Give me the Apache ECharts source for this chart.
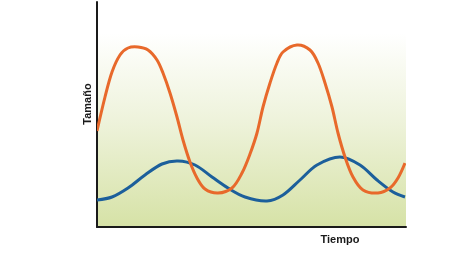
<!DOCTYPE html>
<html>
<head>
<meta charset="utf-8">
<script src="https://cdn.jsdelivr.net/npm/echarts@6/dist/echarts.min.js"></script>
<style>html,body{margin:0;padding:0;background:#fff;}#c{width:472px;height:270px;}</style>
</head>
<body>
<div id="c"></div>
<script>
const orangeX = [0,8,15,23,31,41,51,60,66,73,80,86,93,100,108,121,135,145,153,160,166,173,180,186,200,213,221,228,235,241,248,256,266,281,293,301,308];
const orangeY = [96,130,155,172,179,180,177,167,154,134,110,87,65,49,38,34,39,54,73,94,120,144,164,175,182,177,164,144,120,94,70,50,37,34,39,49,64];
const blueX = [0,15,31,48,65,81,98,115,131,148,170,186,203,220,243,263,280,296,308];
const blueY = [27,30,39,52,63,66,62,50,39,30,26,32,47,62,70,62,47,35,30];
const yLabel = 'Tamaño';
const xLabel = 'Tiempo';

const zip = (xs, ys) => xs.map((x, i) => [x, ys[i]]);

function curveSeries(xs, ys, color) {
  const data = zip(xs, ys);
  return {
    type: 'custom',
    data: data,
    clip: true,
    renderItem: function (params, api) {
      if (params.dataIndex !== 0) return null;
      const pts = data.map(d => api.coord(d));
      const cs = params.coordSys;
      return {
        type: 'polyline',
        shape: {points: pts, smooth: 0.33},
        style: {stroke: color, lineWidth: 3, fill: null, lineJoin: 'round', lineCap: 'butt'},
        clipPath: {type: 'rect', shape: {x: cs.x, y: cs.y, width: cs.width, height: cs.height}}
      };
    }
  };
}

const chart = echarts.init(document.getElementById('c'));
chart.setOption({
  animation: false,
  grid: {
    left: 97, top: 2, width: 309, height: 225, show: true, borderWidth: 0,
    backgroundColor: new echarts.graphic.LinearGradient(0, 0, 0, 1, [
      {offset: 0, color: '#ffffff'},
      {offset: 0.14, color: '#ffffff'},
      {offset: 0.55, color: '#edf2d9'},
      {offset: 1, color: '#d6e2a6'}
    ])
  },
  xAxis: {
    type: 'value', min: 0, max: 309,
    axisLine: {show: true, lineStyle: {color: '#1a1a1a', width: 2}},
    axisTick: {show: false}, axisLabel: {show: false}, splitLine: {show: false}
  },
  yAxis: {
    type: 'value', min: 0, max: 225,
    axisLine: {show: true, lineStyle: {color: '#1a1a1a', width: 2}},
    axisTick: {show: false}, axisLabel: {show: false}, splitLine: {show: false}
  },
  series: [
    curveSeries(blueX, blueY, '#1c5f9b'),
    curveSeries(orangeX, orangeY, '#e8692b')
  ],
  graphic: [
    {type: 'text', x: 88, y: 104, rotation: Math.PI / 2,
     style: {text: yLabel, fill: '#1a1a1a', font: 'bold 11px "Liberation Sans", Arial, sans-serif', align: 'center', verticalAlign: 'middle'}},
    {type: 'text', x: 340, y: 240,
     style: {text: xLabel, fill: '#1a1a1a', font: 'bold 11px "Liberation Sans", Arial, sans-serif', align: 'center', verticalAlign: 'middle'}}
  ]
});
</script>
</body>
</html>
